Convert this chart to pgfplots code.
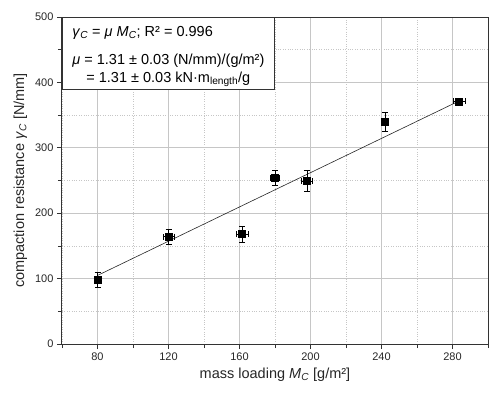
\documentclass[border=0pt]{standalone}
\usepackage{fontspec}
\setmainfont{Liberation Sans}
\usepackage{pgfplots}
\pgfplotsset{compat=1.18}
\begin{document}
\begin{tikzpicture}
\useasboundingbox (-62pt,-55pt) rectangle (432pt,344pt);
\begin{axis}[
  scale only axis, width=426pt, height=327pt,
  xmin=60, xmax=300, ymin=0, ymax=500,
  xtick={80,120,...,280}, minor xtick={60,100,...,300},
  ytick={0,100,...,500}, minor ytick={50,150,...,450},
  tick pos=left, tick align=outside,
  major tick length=5pt, minor tick length=4pt,
  grid=both,
  major grid style={gray!45, line width=0.8pt},
  minor grid style={gray!45, dotted, line width=0.6pt},
  axis line style={black!80, line width=1pt},
  tick style={black!80, line width=0.8pt},
  /pgf/number format/assume math mode=true,
  ticklabel style={font=\fontsize{11}{13}\selectfont, text=black!85},
  label style={font=\fontsize{14.5}{17}\selectfont, text=black!85},
  xlabel={mass loading \textit{M}\textsubscript{\textit{C}} [g/m²]},
  ylabel={compaction resistance \textit{γ}\textsubscript{\textit{C}} [N/mm]},
  xlabel style={yshift=-1pt},
  ylabel style={yshift=1pt},
]
\addplot[black!85, line width=0.6pt, forget plot] coordinates {(80,104.8) (284,372.0)};
\addplot[only marks, mark=square*, mark size=3.5pt, black,
  error bars/.cd, x dir=both, x explicit, y dir=both, y explicit,
  error mark options={rotate=90, mark size=3pt, line width=0.5pt},
  error bar style={line width=0.5pt}]
  coordinates {
  (80,98) +- (1.5,11)
  (120,164) +- (3,11)
  (161.5,168) +- (3.4,12)
  (180,254) +- (2.5,11)
  (198,249) +- (3,16)
  (242,340) +- (1,14)
  (283.6,371) +- (3.3,3)
  };
\node[anchor=north west, draw=black!80, line width=0.8pt, fill=white, align=left,
  font=\fontsize{14.5}{18}\selectfont, inner xsep=10pt, inner ysep=2pt]
  at (rel axis cs:0,1) {\rule{0pt}{17pt}\textit{γ}\textsubscript{\textit{C}} = \textit{μ} \textit{M}\textsubscript{\textit{C}}; R² = 0.996\\[10pt]
  \textit{μ} = 1.31 ± 0.03 (N/mm)/(g/m²)\\
  \hspace*{14pt}= 1.31 ± 0.03 kN·m\textsubscript{length}/g};
\end{axis}
\end{tikzpicture}
\end{document}
